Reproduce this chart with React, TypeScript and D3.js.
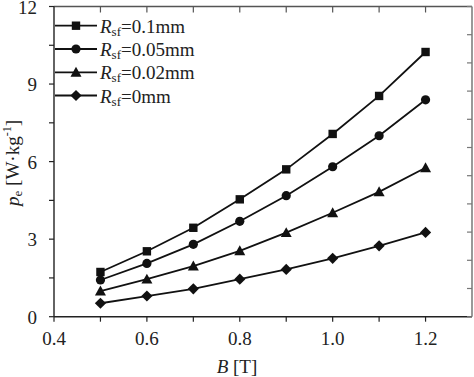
import React from "react";
import * as d3 from "d3";

const B = [0.5, 0.6, 0.7, 0.8, 0.9, 1.0, 1.1, 1.2];
const r01 = [1.73, 2.53, 3.44, 4.54, 5.7, 7.07, 8.54, 10.24];
const r005 = [1.42, 2.06, 2.8, 3.69, 4.68, 5.8, 7.0, 8.39];
const r002 = [0.99, 1.45, 1.96, 2.55, 3.25, 4.02, 4.83, 5.76];
const r0 = [0.52, 0.8, 1.08, 1.45, 1.83, 2.26, 2.74, 3.26];
const seriesNames = ["0.1mm", "0.05mm", "0.02mm", "0mm"];
const markers = ["square", "circle", "triangle", "diamond"];
const xTicks = [0.4, 0.6, 0.8, 1.0, 1.2];
const xMinor = [0.4, 0.5, 0.6, 0.7, 0.8, 0.9, 1.0, 1.1, 1.2];
const yTicks = [0, 3, 6, 9, 12];
const yMinor = [0, 1.5, 3, 4.5, 6, 7.5, 9, 10.5, 12];

const W = 474, H = 377;
const L = 54, R = 472, T = 6.5, Bt = 316.7;
const FONT = "'Liberation Serif', 'Times New Roman', serif";

function Marker({ type, x, y }: { type: string; x: number; y: number }) {
  if (type === "square") return <rect x={x - 4.2} y={y - 4.2} width={8.4} height={8.4} fill="#111" />;
  if (type === "circle") return <circle cx={x} cy={y} r={4.6} fill="#111" />;
  if (type === "triangle") {
    const s = 5.5;
    return <path d={`M${x},${y - s}L${x + s},${y + s * 0.8}L${x - s},${y + s * 0.8}Z`} fill="#111" />;
  }
  const s = 5.6;
  return <path d={`M${x},${y - s}L${x + s},${y}L${x},${y + s}L${x - s},${y}Z`} fill="#111" />;
}

export default function App() {
  const x = d3.scaleLinear().domain([0.4, 1.3]).range([L, R]);
  const y = d3.scaleLinear().domain([0, 12]).range([Bt, T]);
  const data = [r01, r005, r002, r0];
  const line = d3.line<number>().x((_, i) => x(B[i])).y((d) => y(d));
  const rightTicks = d3.range(0, 12).map((k) => Bt - (k * (Bt - T)) / 11);
  const legendY = [25.7, 49, 72.3, 95.5];

  return (
    <svg width={W} height={H} style={{ position: "absolute", left: 0, top: 0, background: "#fff" }} fontFamily={FONT}>
      {/* frame */}
      <line x1={L} y1={T} x2={R} y2={T} stroke="#555" strokeWidth={1.3} />
      <line x1={R} y1={T} x2={R} y2={Bt} stroke="#777" strokeWidth={1.5} />
      <line x1={L} y1={T} x2={L} y2={Bt} stroke="#222" strokeWidth={1.4} />
      <line x1={L} y1={Bt} x2={R} y2={Bt} stroke="#222" strokeWidth={1.4} />
      {/* bottom ticks outward */}
      {xMinor.map((v) => (
        <line key={"bx" + v} x1={x(v)} x2={x(v)} y1={Bt} y2={Bt + 5} stroke="#222" strokeWidth={1.2} />
      ))}
      {/* top ticks inward */}
      {xMinor.filter((v) => v > 0.45).map((v) => (
        <line key={"tx" + v} x1={x(v)} x2={x(v)} y1={T} y2={T + 6} stroke="#555" strokeWidth={1.2} />
      ))}
      {/* left ticks outward */}
      {yMinor.map((v) => (
        <line key={"ly" + v} x1={L - 5} x2={L} y1={y(v)} y2={y(v)} stroke="#222" strokeWidth={1.2} />
      ))}
      {/* right ticks inward */}
      {rightTicks.map((v, i) => (
        <line key={"ry" + i} x1={R - 5} x2={R} y1={v} y2={v} stroke="#777" strokeWidth={1.2} />
      ))}
      {xTicks.map((v) => (
        <text key={"xl" + v} x={x(v)} y={345} fontSize={19} textAnchor="middle" fill="#222">
          {v.toFixed(1)}
        </text>
      ))}
      {yTicks.map((v) => (
        <text key={"yl" + v} x={37} y={y(v) + 7} fontSize={19} textAnchor="end" fill="#222">
          {v}
        </text>
      ))}
      {/* axis titles */}
      <text x={237} y={373} fontSize={19} textAnchor="middle" fill="#222">
        <tspan fontStyle="italic">B</tspan> [T]
      </text>
      <text transform={`translate(19,163) rotate(-90)`} fontSize={19} textAnchor="middle" fill="#222">
        <tspan fontStyle="italic">p</tspan>
        <tspan fontSize={13} dy={3}>e</tspan>
        <tspan dy={-3}> [W·kg</tspan>
        <tspan fontSize={12} dy={-8}>-1</tspan>
        <tspan dy={8}>]</tspan>
      </text>
      {/* series */}
      {data.map((s, si) => (
        <g key={"s" + si}>
          <path d={line(s) || ""} fill="none" stroke="#111" strokeWidth={1.8} />
          {s.map((v, i) => (
            <Marker key={i} type={markers[si]} x={x(B[i])} y={y(v)} />
          ))}
        </g>
      ))}
      {/* legend */}
      {seriesNames.map((n, i) => (
        <g key={"lg" + i}>
          <line x1={55} x2={97} y1={legendY[i]} y2={legendY[i]} stroke="#111" strokeWidth={1.8} />
          <Marker type={markers[i]} x={76} y={legendY[i]} />
          <text x={100} y={legendY[i] + 7} fontSize={19} fill="#222">
            <tspan fontStyle="italic">R</tspan>
            <tspan fontSize={13} dy={3}>sf</tspan>
            <tspan dy={-3}>={n}</tspan>
          </text>
        </g>
      ))}
    </svg>
  );
}
